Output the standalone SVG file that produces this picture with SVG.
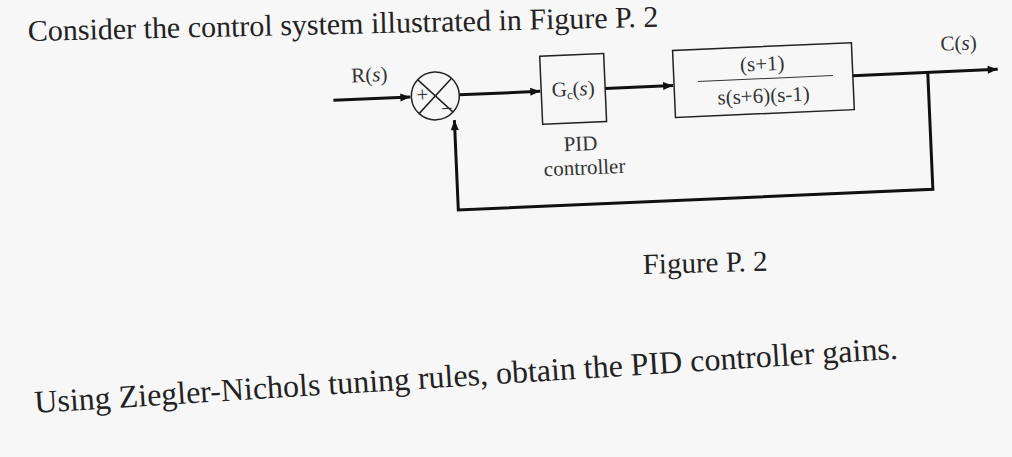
<svg xmlns="http://www.w3.org/2000/svg" width="1012" height="457" viewBox="0 0 1012 457">
<defs>
<marker id="ah" viewBox="0 0 10 10" refX="10" refY="5" markerWidth="12" markerHeight="10" orient="auto" markerUnits="userSpaceOnUse"><path d="M0,1 L10,5 L0,9 z" fill="#111"/></marker>
<style>
.t{font-family:"Liberation Serif","DejaVu Serif",serif;fill:#222}
.d{font-family:"Liberation Serif","DejaVu Serif",serif;fill:#333;font-size:21px}
.l{stroke:#111;stroke-width:3;fill:none}
.b{stroke:#222;stroke-width:1.5;fill:none}
</style>
</defs>
<rect width="1012" height="457" fill="#f7f7f7"/>
<text class="t" x="28" y="41" font-size="30" font-family="Liberation Serif, serif" transform="rotate(-1.3 28 41)">Consider the control system illustrated in Figure P. 2</text>
<g transform="rotate(-2.5 640 130)">
<g id="connectors">
<line class="l" x1="335" y1="87" x2="412" y2="87" marker-end="url(#ah)"/>
<line class="l" x1="461" y1="87" x2="542" y2="87" marker-end="url(#ah)"/>
<line class="l" x1="607" y1="87" x2="675" y2="87" marker-end="url(#ah)"/>
<line class="l" x1="855" y1="85" x2="1000" y2="85" marker-end="url(#ah)"/>
<polyline class="l" points="930,85 930,202 455,202 455,112" marker-end="url(#ah)"/>
</g>
<g id="input"><text class="d" x="372" y="70" text-anchor="middle" font-family="Liberation Serif, serif" font-size="18">R(<tspan font-style="italic">s</tspan>)</text></g>
<g id="sum">
<circle class="b" cx="437" cy="87" r="24"/>
<line class="b" x1="420" y1="70" x2="454" y2="104"/><line class="b" x1="454" y1="70" x2="420" y2="104"/>
<text class="d" x="424" y="92" font-size="15" text-anchor="middle" font-family="Liberation Serif, serif">+</text>
<text class="d" x="448" y="107" font-size="15" text-anchor="middle" font-family="Liberation Serif, serif">−</text>
</g>
<g id="gc">
<rect class="b" x="543" y="52" width="64" height="68"/>
<text class="d" x="575" y="93" text-anchor="middle" font-size="18" font-family="Liberation Serif, serif">G<tspan font-size="13" dy="3">c</tspan><tspan dy="-3">(<tspan font-style="italic">s</tspan>)</tspan></text>
<text class="d" x="580" y="148" text-anchor="middle" font-family="Liberation Serif, serif">PID</text>
<text class="d" x="583" y="172" text-anchor="middle" font-family="Liberation Serif, serif">controller</text>
</g>
<g id="plant">
<rect class="b" x="676" y="52" width="179" height="67"/>
<text class="d" x="765" y="76" text-anchor="middle" font-size="19" font-family="Liberation Serif, serif">(s+1)</text>
<line x1="700" y1="84" x2="835" y2="84" stroke="#333" stroke-width="1"/>
<text class="d" x="765" y="108" text-anchor="middle" font-size="19" font-family="Liberation Serif, serif">s(s+6)(s-1)</text>
</g>
<g id="output"><text class="d" x="962" y="64" text-anchor="middle" font-size="18" font-family="Liberation Serif, serif">C(<tspan font-style="italic">s</tspan>)</text></g>
</g>
<text class="t" x="643" y="274" font-size="29" font-family="Liberation Serif, serif" transform="rotate(-1.5 643 274)">Figure P. 2</text>
<text class="t" x="35" y="413" font-size="32" font-family="Liberation Serif, serif" transform="rotate(-3.6 35 413)">Using Ziegler-Nichols tuning rules, obtain the PID controller gains.</text>
</svg>
